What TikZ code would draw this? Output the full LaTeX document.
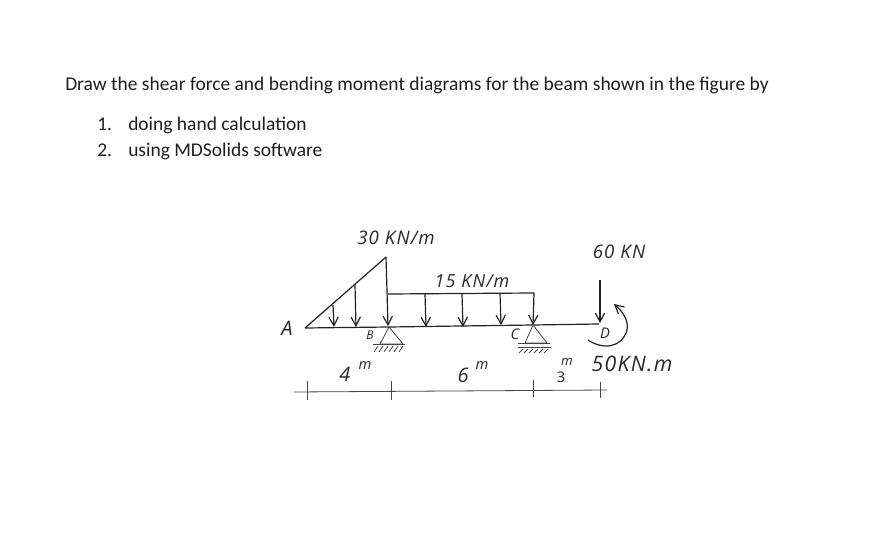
\documentclass[tikz,border=0pt]{standalone}
\usepackage{fontspec}
\setmainfont{Carlito}
\newfontfamily\handfont[ItalicFont=* Italic,LetterSpace=6]{Open Sans}
\usetikzlibrary{arrows.meta}
\tikzset{
  ink/.style={draw={rgb,255:red,35;green,35;blue,35},line width=0.9pt},
  thinink/.style={draw={rgb,255:red,70;green,70;blue,70},line width=0.6pt},
  loadarrow/.style={ink,-{Straight Barb[length=6.5pt,width=7pt,line width=0.9pt]}},
  bodytext/.style={anchor=base west,inner sep=0pt,text={rgb,255:red,30;green,30;blue,30},font=\fontsize{14.6}{17}\selectfont},
  handlabel/.style={inner sep=0pt,text={rgb,255:red,40;green,40;blue,40},font=\handfont\itshape\fontsize{14}{16}\selectfont},
  smalllabel/.style={handlabel,font=\handfont\itshape\fontsize{9}{11}\selectfont}
}
\begin{document}
\begin{tikzpicture}[x=0.75pt,y=0.75pt,yscale=-1]
\useasboundingbox (0,0) rectangle (884,541);
\fill[white] (0,0) rectangle (884,541);

% Text Node
\node[bodytext] (title) at (65,91) {Draw the shear force and bending moment diagrams for the beam shown in the figure by};
\node[bodytext] (numone) at (97,131) {1.};
\node[bodytext] (itemone) at (128,131) {doing hand calculation};
\node[bodytext] (numtwo) at (97,157) {2.};
\node[bodytext] (itemtwo) at (128,157) {using MDSolids software};

%Straight Lines
\coordinate (ptA) at (305,328);
\coordinate (ptB) at (389,327);
\coordinate (ptC) at (533,325);
\coordinate (ptD) at (599,324);
\coordinate (ptApex) at (386,257);
\draw[ink] (ptA) -- (ptB) -- (ptC) -- (ptD);
\draw[ink] (ptA) -- (ptApex);
\draw[ink] (388,294) -- (534,293);

%Load Arrows
\draw[loadarrow] (ptApex) -- (388,326);
\draw[loadarrow] (333,305) -- (334,327);
\draw[loadarrow] (355,285) -- (356,327);
\draw[loadarrow] (425,294) -- (426,327);
\draw[loadarrow] (462,294) -- (463,327);
\draw[loadarrow] (500,293) -- (501,325);
\draw[loadarrow] (534,293) -- (ptC);
\draw[loadarrow] (600,280) -- (600,323);

%Supports
\draw[thinink] (ptB) -- (380,344) -- (403,344) -- cycle;
\draw[thinink] (373,344) -- (405,344);
\foreach \hx in {375,380,...,400}
  \draw[thinink] (\hx+3,346) -- (\hx-1,352);
\draw[thinink] (ptC) -- (525,343) -- (547,343) -- cycle;
\draw[thinink] (518,343) -- (550,343);
\draw[thinink] (518,347) -- (551,347);
\foreach \hx in {520,525,...,545}
  \draw[thinink] (\hx+3,349) -- (\hx-1,353);

%Curve Lines
\draw[loadarrow] (588,340) .. controls (603,350) and (622,348) .. (627,330) .. controls (629,320) and (622,311) .. (614,304);

%Dimension Line
\draw[thinink] (294,392) -- (450,391) -- (607,390);
\foreach \tx/\ta/\tb in {307/381/400,391/381/400,533/380/397,600/382/398}
  \draw[thinink] (\tx,\ta) -- (\tx,\tb);

% Text Node
\node[handlabel] (loadone) at (396,238) {30 KN/m};
\node[handlabel,font=\handfont\itshape\fontsize{13.5}{15}\selectfont] (loadtwo) at (472,281) {15 KN/m};
\node[handlabel] (force) at (619,252) {60 KN};
\node[handlabel,font=\handfont\itshape\fontsize{16}{18}\selectfont] (couple) at (632,364) {50KN.m};
\node[handlabel,font=\handfont\itshape\fontsize{15}{17}\selectfont] (labA) at (287,328) {A};
\node[smalllabel] (labB) at (370,335) {B};
\node[smalllabel,font=\handfont\itshape\fontsize{11}{13}\selectfont] (labC) at (515,334) {C};
\node[smalllabel,font=\handfont\itshape\fontsize{11}{13}\selectfont] (labD) at (605,333) {D};
\node[handlabel,font=\handfont\itshape\fontsize{15}{17}\selectfont] (spanone) at (345,374) {4};
\node[smalllabel,font=\handfont\itshape\fontsize{11}{13}\selectfont] (unitone) at (365,366) {m};
\node[handlabel,font=\handfont\itshape\fontsize{15}{17}\selectfont] (spantwo) at (463,375) {6};
\node[smalllabel,font=\handfont\itshape\fontsize{11}{13}\selectfont] (unittwo) at (482,366) {m};
\node[handlabel,font=\handfont\fontsize{11}{13}\selectfont] (spanthree) at (561,377) {3};
\node[smalllabel,font=\handfont\itshape\fontsize{10}{12}\selectfont] (unitthree) at (567,362) {m};
\end{tikzpicture}
\end{document}
